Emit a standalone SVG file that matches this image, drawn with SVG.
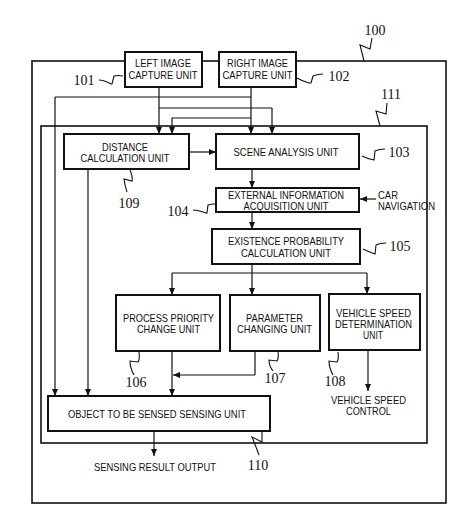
<svg xmlns="http://www.w3.org/2000/svg" width="474" height="528" viewBox="0 0 474 528">
<defs>
<marker id="ah" markerWidth="8" markerHeight="8" refX="7" refY="4" orient="auto" markerUnits="userSpaceOnUse">
<path d="M0,1 L7,4 L0,7 Z" fill="#111"/>
</marker>
<style>
.frame{fill:none;stroke:#111;stroke-width:1.6}
.box{fill:#fff;stroke:#111;stroke-width:2}
.ln{fill:none;stroke:#111;stroke-width:1.2}
.arr{fill:none;stroke:#111;stroke-width:1.2;marker-end:url(#ah)}
.sq{fill:none;stroke:#111;stroke-width:1.1}
.t{font-family:"Liberation Sans",Arial,sans-serif;font-size:11.5px;fill:#111;text-anchor:middle}
.n{font-family:"Liberation Serif","Times New Roman",serif;font-size:14px;fill:#111;text-anchor:middle}
</style>
</defs>
<rect fill="#fff" x="0" y="0" width="474" height="528"/>
<g id="frame100">
<rect class="frame" x="32" y="61" width="414" height="442"/>
<path class="sq" d="M364,61 L360,45 L370,49 L372,38"/>
<text class="n" x="375" y="35">100</text>
</g>
<g id="frame111">
<rect class="frame" x="41" y="126" width="386" height="317"/>
<path class="sq" d="M380,126 L376,111 L386,114 L387,103"/>
<text class="n" x="391" y="99">111</text>
</g>
<g id="connectors">
<path class="arr" d="M159,87 V134"/>
<path class="ln" d="M159,108 H272"/>
<path class="arr" d="M272,108 V134"/>
<path class="arr" d="M251,87 V134"/>
<path class="ln" d="M251,97 H55"/>
<path class="arr" d="M55,97 V396"/>
<path class="ln" d="M251,118 H172"/>
<path class="arr" d="M172,118 V134"/>
<path class="arr" d="M189,152 H216"/>
<path class="arr" d="M88,169 V396"/>
<path class="arr" d="M252,169 V188"/>
<path class="arr" d="M376,199 H360"/>
<path class="arr" d="M252,212 V229"/>
<path class="ln" d="M252,264 V273"/>
<path class="ln" d="M172,273 H367"/>
<path class="arr" d="M172,273 V295"/>
<path class="arr" d="M252,273 V295"/>
<path class="arr" d="M367,273 V294"/>
<path class="arr" d="M172,351 V396"/>
<path class="ln" d="M255,351 V375"/>
<path class="arr" d="M255,375 H173"/>
<path class="arr" d="M368,350 V391"/>
<path class="arr" d="M154,431 V456"/>
</g>
<g id="n101">
<rect class="box" x="125" y="52" width="77" height="35"/>
<text class="t" x="163" y="67" textLength="56" lengthAdjust="spacingAndGlyphs">LEFT IMAGE</text>
<text class="t" x="163" y="79" textLength="69" lengthAdjust="spacingAndGlyphs">CAPTURE UNIT</text>
<path class="sq" d="M99,80 Q104,80 111,84 L112,84 L114,76 Q118,75 123,76"/>
<text class="n" x="84" y="85">101</text>
</g>
<g id="n102">
<rect class="box" x="219" y="52" width="77" height="35"/>
<text class="t" x="257.500" y="67" textLength="61" lengthAdjust="spacingAndGlyphs">RIGHT IMAGE</text>
<text class="t" x="257.500" y="79" textLength="70" lengthAdjust="spacingAndGlyphs">CAPTURE UNIT</text>
<path class="sq" d="M297,78 Q302,81 309,83 L311,83 L313,76 Q318,74 323,74"/>
<text class="n" x="339" y="81">102</text>
</g>
<g id="n109">
<rect class="box" x="64" y="134" width="125" height="35"/>
<text class="t" x="125" y="151" textLength="46" lengthAdjust="spacingAndGlyphs">DISTANCE</text>
<text class="t" x="125" y="162" textLength="89" lengthAdjust="spacingAndGlyphs">CALCULATION UNIT</text>
<path class="sq" d="M130,170 Q133,177 132,181 L124,179 Q125,186 127,192"/>
<text class="n" x="129" y="208">109</text>
</g>
<g id="n103">
<rect class="box" x="216" y="134" width="143" height="35"/>
<text class="t" x="286" y="156" textLength="105" lengthAdjust="spacingAndGlyphs">SCENE ANALYSIS UNIT</text>
<path class="sq" d="M362,156 Q368,159 374,160 L375,151 Q379,149 385,149"/>
<text class="n" x="399" y="157">103</text>
</g>
<g id="n104">
<rect class="box" x="216" y="188" width="143" height="24"/>
<text class="t" x="286" y="199" textLength="116" lengthAdjust="spacingAndGlyphs">EXTERNAL INFORMATION</text>
<text class="t" x="286" y="210" textLength="85" lengthAdjust="spacingAndGlyphs">ACQUISITION UNIT</text>
<path class="sq" d="M193,210 Q198,210 206,213 L207,213 L208,205 Q211,204 215,204"/>
<text class="n" x="178" y="216">104</text>
</g>
<g id="carnav">
<text class="t" x="388" y="199" textLength="20" lengthAdjust="spacingAndGlyphs">CAR</text>
<text class="t" x="406.500" y="210" textLength="57" lengthAdjust="spacingAndGlyphs">NAVIGATION</text>
</g>
<g id="n105">
<rect class="box" x="212" y="229" width="148" height="35"/>
<text class="t" x="286" y="245" textLength="116" lengthAdjust="spacingAndGlyphs">EXISTENCE PROBABILITY</text>
<text class="t" x="286" y="257" textLength="90" lengthAdjust="spacingAndGlyphs">CALCULATION UNIT</text>
<path class="sq" d="M363,249 Q369,252 375,254 L376,245 Q380,243 386,243"/>
<text class="n" x="400" y="251">105</text>
</g>
<g id="n106">
<rect class="box" x="116" y="295" width="104" height="56"/>
<text class="t" x="168.500" y="322" textLength="91" lengthAdjust="spacingAndGlyphs">PROCESS PRIORITY</text>
<text class="t" x="168.500" y="333" textLength="63" lengthAdjust="spacingAndGlyphs">CHANGE UNIT</text>
<path class="sq" d="M139,352 Q140,359 138,362 L130,361 Q130,368 134,375"/>
<text class="n" x="136" y="387">106</text>
</g>
<g id="n107">
<rect class="box" x="230" y="295" width="90" height="56"/>
<text class="t" x="274.500" y="322" textLength="57" lengthAdjust="spacingAndGlyphs">PARAMETER</text>
<text class="t" x="274.500" y="333" textLength="75" lengthAdjust="spacingAndGlyphs">CHANGING UNIT</text>
<path class="sq" d="M278,352 Q279,358 277,361 L269,360 Q269,366 273,371"/>
<text class="n" x="275" y="383">107</text>
</g>
<g id="n108">
<rect class="box" x="329" y="294" width="91" height="56"/>
<text class="t" x="373.500" y="317" textLength="75" lengthAdjust="spacingAndGlyphs">VEHICLE SPEED</text>
<text class="t" x="373.500" y="328" textLength="77" lengthAdjust="spacingAndGlyphs">DETERMINATION</text>
<text class="t" x="373" y="339" textLength="20" lengthAdjust="spacingAndGlyphs">UNIT</text>
<path class="sq" d="M338,352 Q339,359 337,362 L329,361 Q329,368 333,375"/>
<text class="n" x="335" y="386">108</text>
</g>
<g id="vsc">
<text class="t" x="368.500" y="404" textLength="75" lengthAdjust="spacingAndGlyphs">VEHICLE SPEED</text>
<text class="t" x="368.500" y="415" textLength="45" lengthAdjust="spacingAndGlyphs">CONTROL</text>
</g>
<g id="n110">
<rect class="box" x="48" y="396" width="222" height="35"/>
<text class="t" x="157" y="418" textLength="178" lengthAdjust="spacingAndGlyphs">OBJECT TO BE SENSED SENSING UNIT</text>
<path class="sq" d="M262,431 L262,442 L252,437 L256,447 L259,455"/>
<text class="n" x="258" y="470">110</text>
</g>
<g id="out">
<text class="t" x="155" y="471" textLength="122" lengthAdjust="spacingAndGlyphs">SENSING RESULT OUTPUT</text>
</g>
</svg>
